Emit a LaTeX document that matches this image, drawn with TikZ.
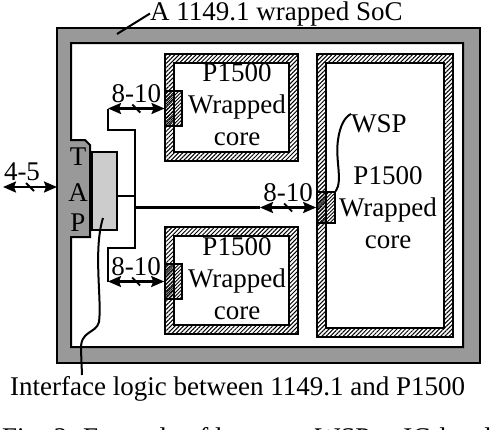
\documentclass[tikz,border=0pt]{standalone}
\usepackage{fontspec}
\setmainfont{Liberation Serif}
\usetikzlibrary{arrows.meta,patterns.meta,decorations.markings}
\begin{document}
\begin{tikzpicture}[x=1pt,y=-1pt,>={Stealth[length=13pt,width=11pt,inset=2pt]},
    every node/.style={font=\fontsize{27}{32}\selectfont, inner sep=0pt},
    frame/.style={fill=black!40, draw=black, line width=2pt},
    hatchbox/.style={draw, line width=1.5pt, pattern={Lines[angle=45,distance=3pt,line width=1pt]}},
    innerbox/.style={draw, fill=white, line width=2.4pt},
    wsp/.style={draw, line width=1.6pt, pattern={Lines[angle=45,distance=2.5pt,line width=.9pt]}},
    wire/.style={line width=2.2pt},
    bus/.style={<->, wire, postaction={decorate},
        decoration={markings, mark=at position .5 with {\draw[-,line width=1.8pt] (-4pt,4pt) -- (4pt,-4pt);}}},
    lbl/.style={above=5pt},
    lead/.style={line width=2pt}]
    \useasboundingbox (0,0) rectangle (500,429);
    \filldraw[frame] (57,28) rectangle (480,363);
    \filldraw[fill=white, line width=2pt] (71,43) -- (463,43) -- (463,347) -- (71,347)
        -- (71,237) -- (90,237) -- (90,145) -- (85,140) -- (71,140) -- cycle;
    \foreach \l/\y [count=\i] in {T/157,A/193,P/223}
        \node (tap_\i) at (78,\y) {\l};
    \node[fill=gray!40, draw, line width=2pt, minimum width=25pt, minimum height=78pt] (IL) at (104.5,191) {};
    \foreach \n/\x/\y/\w/\h/\iw/\ih in {1/231.5/107.5/133/107/115/89, 2/231.5/280.5/133/107/115/89, 3/385/195.5/136/283/118/265}
    {
        \node[hatchbox, minimum width=\w pt, minimum height=\h pt] (C_\n) at (\x,\y) {};
        \node[innerbox, minimum width=\iw pt, minimum height=\ih pt] (C_\n i) at (C_\n) {};
    }
    \node[align=center] (T_1) at (237,105) {P1500\\Wrapped\\core};
    \node[align=center] (T_2) at (237,279) {P1500\\Wrapped\\core};
    \node[align=center] (T_3) at (388,208) {P1500\\Wrapped\\core};
    \node[wsp, minimum width=17pt, minimum height=35pt] (W_1) at (173.5,108.5) {};
    \node[wsp, minimum width=17pt, minimum height=35pt] (W_2) at (173.5,281.5) {};
    \node[wsp, minimum width=18pt, minimum height=31pt] (W_3) at (326,207.5) {};
    \node[anchor=base west] (soc) at (150,20) {A 1149.1 wrapped SoC};
    \node[anchor=base west] (wsp) at (351,132) {WSP};
    \node[anchor=base west] (iface) at (10,395) {Interface logic between 1149.1 and P1500};
    \node[anchor=base west] (fig) at (2,446) {Fig. 2. Example of low-cost WSP at IC-level};
    \coordinate (io) at (3,187);
    \coordinate (tap) at (57,187);
    \coordinate (J) at (135,196);
    \coordinate (U) at (108,130);
    \coordinate (D) at (108,248);
    \coordinate (R) at (260,0);
    \coordinate (socpin) at (117,34);
    \coordinate (ilpin) at (103,218);
    \coordinate (ilend) at (82,375);
    \draw[wire] (IL.east |- J) -- (J);
    \draw[wire] (J) |- (U) -- (U |- W_1.west);
    \draw[wire] (J) |- (D) -- (D |- W_2.west);
    \draw[wire] (J |- W_3.west) -- (R |- W_3.west);
    \draw[bus] (U |- W_1.west) -- node[lbl] {8-10} (W_1.west);
    \draw[bus] (D |- W_2.west) -- node[lbl] {8-10} (W_2.west);
    \draw[bus] (R |- W_3.west) -- node[lbl] {8-10} (W_3.west);
    \draw[bus] (io) -- node[lbl, xshift=-8pt] {4-5} (tap);
    \draw[lead] (socpin) -- (soc.west);
    \draw[lead] (W_3.north east) .. controls (343,180) and (335,160) .. (338,140)
        .. controls (340,125) and (345,117) .. (wsp.north west);
    \draw[lead] (ilpin) .. controls (93,250) and (102,300) .. (99,322)
        .. controls (96,334) and (80,330) .. (81,350) .. controls (81,362) .. (ilend);
\end{tikzpicture}
\end{document}
